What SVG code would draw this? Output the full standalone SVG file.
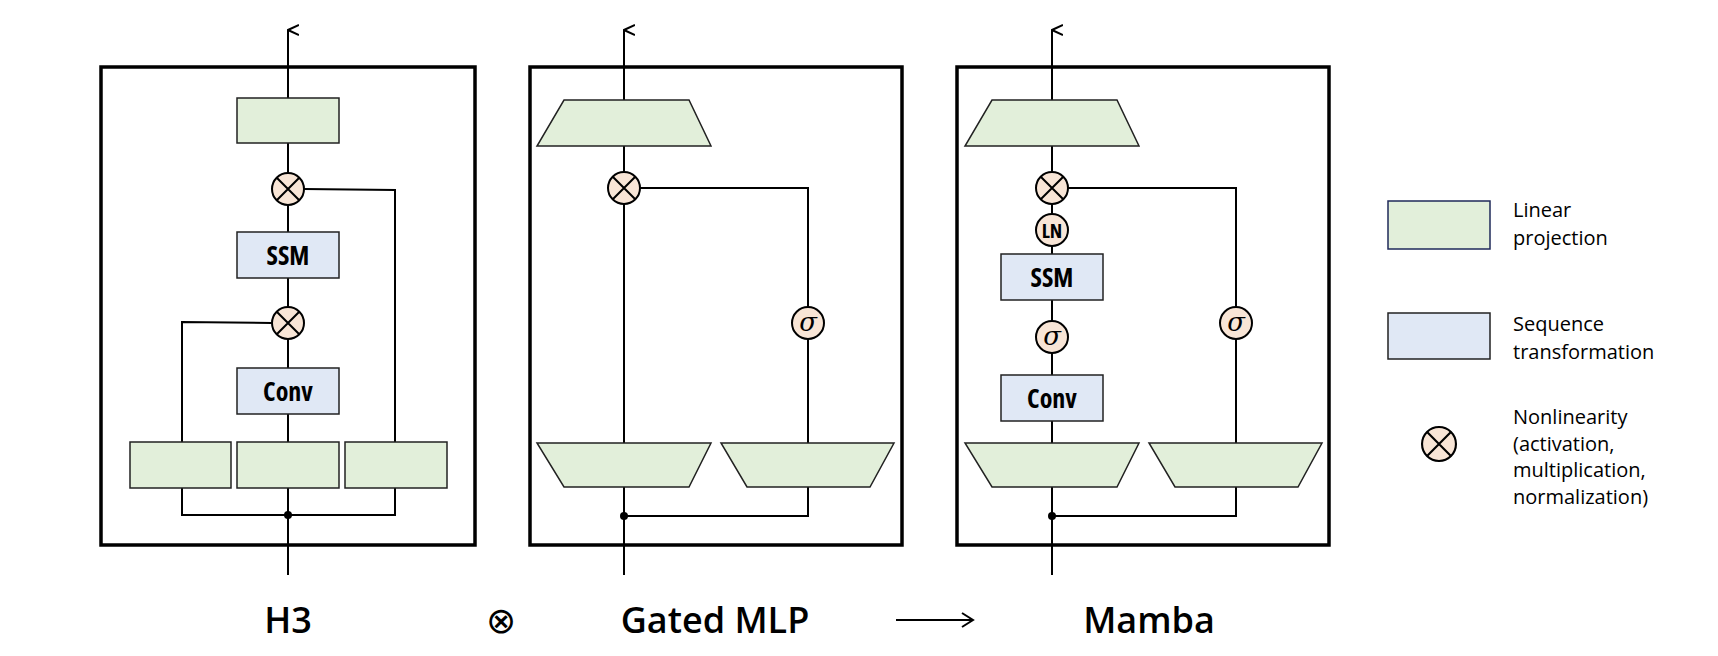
<svg xmlns="http://www.w3.org/2000/svg" width="1718" height="656" viewBox="0 0 1718 656">
<defs>
<marker id="ah" viewBox="0 0 12 12" refX="6" refY="1" markerWidth="12" markerHeight="12" markerUnits="userSpaceOnUse" orient="auto-start-reverse"><path d="M1,12 L6,1 L11,12" fill="none" stroke="#000" stroke-width="2"/></marker>
<g id="otimes"><circle r="16" class="nl"/><path d="M-11,-11 L11,11 M11,-11 L-11,11" stroke="#000" stroke-width="2"/></g>
</defs>
<style>
.frame{fill:none;stroke:#000;stroke-width:3.5}
.lin{fill:#e2efda;stroke:#222;stroke-width:1.5}
.seq{fill:#e0e8f5;stroke:#222;stroke-width:1.5}
.nl{fill:#f8e5d6;stroke:#000;stroke-width:2}
.ln{fill:none;stroke:#000;stroke-width:2}
.bt{font-family:"Open Sans",sans-serif;font-weight:bold;font-stretch:condensed;font-size:26px;text-anchor:middle}
.lab{font-family:"Open Sans",sans-serif;font-weight:600;font-size:36px;text-anchor:middle}
.leg{font-family:"Open Sans",sans-serif;font-size:20px}
.sig{font-family:"DejaVu Serif",serif;font-style:italic;font-size:26px;text-anchor:middle}
</style>
<rect width="1718" height="656" fill="#fff"/>
<g id="connectors">
<line class="ln" x1="288" y1="575" x2="288" y2="30" marker-end="url(#ah)"/>
<polyline class="ln" points="182,488 182,515 395,515 395,488"/>
<polyline class="ln" points="182,442 182,322 272,323"/>
<polyline class="ln" points="304,189 395,190 395,442"/>
<line class="ln" x1="624" y1="575" x2="624" y2="30" marker-end="url(#ah)"/>
<polyline class="ln" points="624,516 808,516 808,487"/>
<polyline class="ln" points="640,188 808,188 808,443"/>
<line class="ln" x1="1052" y1="575" x2="1052" y2="30" marker-end="url(#ah)"/>
<polyline class="ln" points="1052,516 1236,516 1236,487"/>
<polyline class="ln" points="1068,188 1236,188 1236,443"/>
<circle cx="288" cy="515" r="4"/><circle cx="624" cy="516" r="4"/><circle cx="1052" cy="516" r="4"/>
</g>
<g id="h3">
<rect class="frame" x="101" y="67" width="374" height="478"/>
<rect class="lin" x="237" y="98" width="102" height="45"/>
<use href="#otimes" x="288" y="189"/>
<rect class="seq" x="237" y="232" width="102" height="46"/><text class="bt" x="288" y="265">SSM</text>
<use href="#otimes" x="288" y="323"/>
<rect class="seq" x="237" y="368" width="102" height="46"/><text class="bt" x="288" y="401">Conv</text>
<rect class="lin" x="130" y="442" width="101" height="46"/>
<rect class="lin" x="237" y="442" width="102" height="46"/>
<rect class="lin" x="345" y="442" width="102" height="46"/>
</g>
<g id="gated">
<rect class="frame" x="530" y="67" width="372" height="478"/>
<polygon class="lin" points="564,100 689,100 711,146 537,146"/>
<use href="#otimes" x="624" y="188"/>
<circle class="nl" cx="808" cy="323" r="16"/><text class="sig" x="808" y="331">σ</text>
<polygon class="lin" points="537,443 711,443 689,487 564,487"/>
<polygon class="lin" points="721,443 894,443 870,487 747,487"/>
</g>
<g id="mamba">
<rect class="frame" x="957" y="67" width="372" height="478"/>
<polygon class="lin" points="992,100 1117,100 1139,146 965,146"/>
<use href="#otimes" x="1052" y="188"/>
<circle class="nl" cx="1052" cy="230" r="16"/><text class="bt" x="1052" y="238" style="font-size:20px">LN</text>
<rect class="seq" x="1001" y="254" width="102" height="46"/><text class="bt" x="1052" y="287">SSM</text>
<circle class="nl" cx="1052" cy="337" r="16"/><text class="sig" x="1052" y="345">σ</text>
<rect class="seq" x="1001" y="375" width="102" height="46"/><text class="bt" x="1052" y="408">Conv</text>
<circle class="nl" cx="1236" cy="323" r="16"/><text class="sig" x="1236" y="331">σ</text>
<polygon class="lin" points="965,443 1139,443 1117,487 992,487"/>
<polygon class="lin" points="1149,443 1322,443 1298,487 1175,487"/>
</g>
<g id="legend">
<rect x="1388" y="201" width="102" height="48" fill="#e2efda" stroke="#1f2a5a" stroke-width="1.5"/>
<text class="leg" x="1513" y="217">Linear</text><text class="leg" x="1513" y="245">projection</text>
<rect class="seq" x="1388" y="313" width="102" height="46"/>
<text class="leg" x="1513" y="331">Sequence</text><text class="leg" x="1513" y="359">transformation</text>
<use href="#otimes" x="1439" y="444" transform="translate(1439,444) scale(1.06) translate(-1439,-444)"/>
<text class="leg" x="1513" y="424">Nonlinearity</text><text class="leg" x="1513" y="451">(activation,</text>
<text class="leg" x="1513" y="477">multiplication,</text><text class="leg" x="1513" y="504">normalization)</text>
</g>
<g id="labels">
<text class="lab" x="288" y="633">H3</text>
<text class="lab" x="501" y="633" style="font-weight:normal">⊗</text>
<text class="lab" x="715" y="633">Gated MLP</text>
<line x1="896" y1="620" x2="972" y2="620" stroke="#000" stroke-width="2"/>
<path d="M962,613 L973,620 L962,627" fill="none" stroke="#000" stroke-width="2"/>
<text class="lab" x="1149" y="633">Mamba</text>
</g>
</svg>
